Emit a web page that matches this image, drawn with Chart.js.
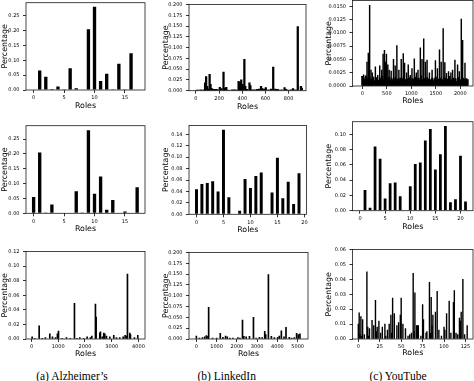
<!DOCTYPE html>
<html><head><meta charset="utf-8">
<script src="https://cdn.jsdelivr.net/npm/chart.js@4.4.1/dist/chart.umd.min.js"></script>
<style>
html,body{margin:0;padding:0;background:#fff;width:474px;height:381px;overflow:hidden;position:relative}
canvas{position:absolute}
.cap{position:absolute;font-family:"Liberation Serif","Times New Roman",serif;font-size:11.5px;line-height:12px;color:#000;white-space:nowrap;transform:translateX(-50%)}
</style></head><body>
<div class="cap" style="left:72px;top:369.7px">(a) Alzheimer’s</div>
<div class="cap" style="left:226.7px;top:369.7px">(b) LinkedIn</div>
<div class="cap" style="left:398px;top:369.7px">(c) YouTube</div>
<script>
// ---------- DATA ----------
// Alzheimer's (top)
const alzTopRoles  = [0,1,2,3,4,5,6,7,8,9,10,11,12,13,14,15,16,17];
const alzTopValues = [0,0.066,0.045,0.003,0.012,0.001,0.073,0.006,0,0.205,0.280,0.030,0.055,0.001,0.088,0.001,0.124,0];
// Alzheimer's (middle)
const alzMidRoles  = [0,1,2,3,4,5,6,7,8,9,10,11,12,13,14,15,16,17];
const alzMidValues = [0.055,0.205,0.003,0.030,0,0,0,0.074,0.001,0.280,0.066,0.124,0.012,0.045,0,0.006,0,0.088];
// Alzheimer's (bottom)
const alzBotRoles  = [25,120,287,400,520,685,785,900,970,1010,1150,1308,1450,1607,1700,1807,1950,2081,2200,2255,2392,2417,2554,2579,2650,2704,2741,2803,2928,3077,3177,3300,3427,3501,3564,3589,3676,3701,3850,3975];
const alzBotValues = [0.003,0.001,0.018,0.001,0.002,0.007,0.003,0.002,0.007,0.011,0.001,0.002,0.001,0.049,0.001,0.002,0.001,0.003,0.002,0.004,0.048,0.030,0.008,0.010,0.003,0.008,0.007,0.004,0.003,0.005,0.002,0.002,0.003,0.005,0.004,0.089,0.008,0.006,0.002,0.005];

// LinkedIn (top)
const linTopRoles  = [5,20,40,55,70,79,88,97,105,118,126,138,150,162,176,190,206,220,238,250,262,280,309,325,338,355,368,376,382,391,397,403,418,426,440,462,470,485,500,515,529,545,562,573,590,603,625,647,667,685,695,706,720,740,765,779,800,820,838,860,879,906,914];
const linTopValues = [0.001,0.001,0.002,0.001,0.002,0.018,0.033,0.010,0.004,0.038,0.015,0.005,0.003,0.003,0.003,0.002,0.008,0.005,0.043,0.006,0.008,0.001,0.002,0.002,0.002,0.001,0.022,0.015,0.020,0.025,0.012,0.015,0.073,0.010,0.003,0.018,0.012,0.002,0.002,0.002,0.003,0.004,0.010,0.005,0.004,0.007,0.002,0.004,0.055,0.004,0.003,0.003,0.001,0.002,0.007,0.003,0.001,0.002,0.005,0.002,0.149,0.010,0.006];
// LinkedIn (middle)
const linMidRoles  = [0,1,2,3,4,5,6,7,8,9,10,11,12,13,14,15,16,17,18,19];
const linMidValues = [0.044,0.053,0.055,0.058,0.040,0.148,0.030,0,0.006,0.062,0.046,0.067,0.073,0,0.038,0.099,0.028,0.057,0.018,0.072];
// LinkedIn (bottom)
const linBotRoles  = [0,150,300,410,492,574,606,800,1000,1180,1311,1442,1524,1650,1803,2049,2150,2278,2344,2459,2622,2819,2950,3114,3250,3376,3425,3557,3704,3850,4016,4098,4196,4327,4426,4589,4700,4835,4950,5032,5114];
const linBotValues = [0.007,0.002,0.003,0.005,0.008,0.006,0.073,0.002,0.002,0.013,0.004,0.007,0.005,0.002,0.002,0.003,0.002,0.044,0.006,0.005,0.006,0.050,0.002,0.004,0.003,0.018,0.010,0.149,0.006,0.003,0.004,0.007,0.019,0.005,0.027,0.004,0.002,0.003,0.013,0.010,0.012];

// YouTube (top): dense low floor + spikes
const ytTopFloorRoles  = [0,25,50,75,100,125,150,175,200,225,250,275,300,325,350,375,400,425,450,475,500,525,550,575,600,625,650,675,700,725,750,775,800,825,850,875,900,925,950,975,1000,1025,1050,1075,1100,1125,1150,1175,1200,1225,1250,1275,1300,1325,1350,1375,1400,1425,1450,1475,1500,1525,1550,1575,1600,1625,1650,1675,1700,1725,1750,1775,1800,1825,1850,1875,1900,1925,1950,1975,2000,2025,2050,2075,2100,2125,2150];
const ytTopFloorValues = [0.0018,0.0016,0.0012,0.0019,0.0014,0.0011,0.0015,0.0009,0.0013,0.0017,0.0010,0.0012,0.0016,0.0011,0.0008,0.0014,0.0018,0.0012,0.0010,0.0015,0.0013,0.0009,0.0017,0.0011,0.0014,0.0010,0.0012,0.0016,0.0009,0.0013,0.0011,0.0015,0.0010,0.0014,0.0018,0.0012,0.0009,0.0013,0.0016,0.0011,0.0010,0.0014,0.0012,0.0017,0.0009,0.0013,0.0015,0.0011,0.0019,0.0012,0.0010,0.0014,0.0011,0.0016,0.0013,0.0009,0.0012,0.0015,0.0010,0.0014,0.0017,0.0011,0.0013,0.0009,0.0015,0.0012,0.0010,0.0016,0.0014,0.0011,0.0013,0.0018,0.0010,0.0012,0.0015,0.0011,0.0014,0.0009,0.0013,0.0016,0.0012,0.0010,0.0015,0.0013,0.0011,0.0014,0.0012];
const ytTopSpikeRoles  = [27,96,123,150,178,205,267,315,356,397,425,452,473,493,521,548,589,637,671,706,747,795,836,863,904,938,980,1014,1062,1103,1137,1185,1219,1254,1288,1322,1370,1425,1493,1534,1576,1610,1651,1685,1719,1760,1808,1843,1891,1945,1980,2021,2048,2096,2130];
const ytTopSpikeValues = [0.0021,0.0045,0.0062,0.0152,0.0030,0.0025,0.0036,0.0020,0.0038,0.0030,0.0060,0.0067,0.0045,0.0060,0.0040,0.0030,0.0028,0.0050,0.0038,0.0076,0.0030,0.0050,0.0061,0.0043,0.0025,0.0040,0.0020,0.0033,0.0051,0.0025,0.0030,0.0072,0.0050,0.0089,0.0045,0.0049,0.0025,0.0030,0.0048,0.0033,0.0068,0.0045,0.0108,0.0044,0.0024,0.0027,0.0025,0.0030,0.0049,0.0040,0.0027,0.0126,0.0086,0.0043,0.0010];
// YouTube (middle)
const ytMidRoles  = [0,1,2,3,4,5,6,7,8,9,10,11,12,13,14,15,16,17,18,19,20,21];
const ytMidValues = [0.0005,0.027,0.004,0.084,0.068,0.016,0.036,0.037,0.019,0,0.032,0.061,0.063,0.092,0.107,0.054,0.074,0.111,0.011,0.015,0.072,0.012];
// YouTube (bottom)
const ytBotRoles  = [0,1,2,3,4,5,7,10,11,12,13,16,18,20,21,22,24,26,28,31,32,34,36,38,39,40,42,45,47,49,50,52,55,58,60,62,64,65,66,68,69,70,73,75,76,79,80,83,84,85,86,87,90,92,94,97,100,101,103,106,108,111,112,114,116,118,119,120,122,124,127];
const ytBotValues = [0.010,0.0175,0.003,0.015,0.002,0.013,0.003,0.045,0.008,0.002,0.007,0.0125,0.009,0.026,0.005,0.008,0.012,0.004,0.008,0.010,0.002,0.006,0.010,0.016,0.004,0.0275,0.017,0.009,0.011,0.016,0.0275,0.010,0.007,0.002,0.003,0.004,0.044,0.005,0.031,0.009,0.009,0.009,0.002,0.023,0.013,0.004,0.005,0.038,0.004,0.028,0.009,0.016,0.018,0.032,0.006,0.002,0.008,0.006,0.017,0.0255,0.004,0.0245,0.0325,0.004,0.003,0.014,0.012,0.018,0.040,0.003,0.009];

// Tick labels
const ticksX_alzSmall = [0,5,10,15];
const ticksX_alzBig   = [0,1000,2000,3000,4000];
const ticksX_linTop   = [0,200,400,600,800];
const ticksX_linBot   = [0,1000,2000,3000,4000,5000];
const ticksX_twenty   = [0,5,10,15,20];
const ticksX_ytTop    = [0,500,1000,1500,2000];
const ticksX_ytBot    = [0,25,50,75,100,125];
const ticksY_alz      = [0,0.05,0.10,0.15,0.20,0.25];
const ticksY_alzBot   = [0,0.02,0.04,0.06,0.08,0.10,0.12];
const ticksY_lin      = [0,0.025,0.05,0.075,0.10,0.125,0.15,0.175,0.20];
const ticksY_linMid   = [0,0.02,0.04,0.06,0.08,0.10,0.12,0.14];
const ticksY_ytTop    = [0,0.0025,0.005,0.0075,0.01,0.0125,0.015];
const ticksY_ytMid    = [0,0.02,0.04,0.06,0.08,0.10];
const ticksY_ytBot    = [0,0.01,0.02,0.03,0.04,0.05,0.06];

// ---------- RENDERING ----------
const FONT = '"DejaVu Sans", sans-serif';
const TICK = 5, TITLE = 7.9;
const LH = TITLE * 1.2;

const frame = {id:'frame', afterDatasetsDraw(chart){
  const {ctx, chartArea:a} = chart;
  ctx.save(); ctx.strokeStyle = '#1a1a1a'; ctx.lineWidth = 0.8;
  ctx.strokeRect(a.left, a.top, a.right - a.left, a.bottom - a.top);
  ctx.restore();
}};

function ds(roles, values, extra){
  return Object.assign({
    data: roles.map((r, i) => ({x: r, y: values[i]})),
    backgroundColor: '#000', borderWidth: 0, grouped: false,
    categoryPercentage: 1, barPercentage: 0.55
  }, extra || {});
}

function panel(p){
  const cl = Math.floor(p.ylabX - LH/2);
  const yTitlePad = p.ylabX - LH/2 - cl;
  const W = p.box[0] - cl;
  const ct = Math.floor(p.box[1] - 6);
  const padTop = p.box[1] - ct;
  const cr = Math.ceil(p.box[2] + 4);
  const padRight = cr - p.box[2];
  const cb = Math.ceil(p.xlabY + LH/2);
  const xTitlePad = cb - (p.xlabY + LH/2);
  const H = cb - p.box[3];
  const c = document.createElement('canvas');
  c.width = cr - cl; c.height = cb - ct;
  c.style.left = cl + 'px'; c.style.top = ct + 'px';
  document.body.appendChild(c);
  const grid = {display:true, drawOnChartArea:false, drawTicks:true, tickLength:3, tickColor:'#000', tickWidth:0.8, offset:false};
  new Chart(c, {
    type: 'bar',
    data: {datasets: p.datasets},
    options: {
      responsive:false, animation:false, devicePixelRatio:1,
      layout:{padding:{left:0, top:padTop, right:padRight, bottom:0}},
      plugins:{legend:{display:false}, tooltip:{enabled:false}},
      scales:{
        x:{type:'linear', bounds:'data', min:p.xr[0], max:p.xr[1], offset:false,
          afterBuildTicks: a => { a.ticks = p.xt.map(v => ({value:v})); },
          afterFit: a => { a.height = H; },
          ticks:{autoSkip:false, maxRotation:0, minRotation:0, padding:2.2, color:'#000',
                 font:{family:FONT, size:TICK}, callback: v => String(v)},
          grid, border:{display:false},
          title:{display:true, text:'Roles', color:'#000', font:{family:FONT, size:TITLE},
                 padding:{top:0, bottom:xTitlePad}}
        },
        y:{type:'linear', bounds:'data', min:0, max:p.ymax,
          afterBuildTicks: a => { a.ticks = p.yt.map(v => ({value:v})); },
          afterFit: a => { a.width = W; },
          ticks:{autoSkip:false, padding:3.5, color:'#000', font:{family:FONT, size:TICK},
                 callback: v => Number(v).toFixed(p.dec)},
          grid, border:{display:false},
          title:{display:true, text:'Percentage', color:'#000', font:{family:FONT, size:TITLE},
                 padding:{top:yTitlePad, bottom:0}}
        }
      }
    },
    plugins:[frame]
  });
}

panel({box:[26,2.7,145,90], ylabX:5, xlabY:105.6, xr:[-1.25,18.29], ymax:0.294, xt:ticksX_alzSmall, yt:ticksY_alz, dec:2,
  datasets:[ds(alzTopRoles, alzTopValues)]});
panel({box:[189,4,306,90.7], ylabX:165.5, xlabY:107, xr:[-60,950], ymax:0.2, xt:ticksX_linTop, yt:ticksY_lin, dec:3,
  datasets:[ds(linTopRoles, linTopValues, {barThickness:1.6})]});
panel({box:[352.5,0.5,473,86], ylabX:328.8, xlabY:100.8, xr:[-200,2260], ymax:0.0161, xt:ticksX_ytTop, yt:ticksY_ytTop, dec:4,
  datasets:[ds(ytTopFloorRoles, ytTopFloorValues, {barThickness:1.5}), ds(ytTopSpikeRoles, ytTopSpikeValues, {barThickness:0.8})]});
panel({box:[26,125.7,145,213.3], ylabX:5, xlabY:229.2, xr:[-1.25,18.29], ymax:0.295, xt:ticksX_alzSmall, yt:ticksY_alz, dec:2,
  datasets:[ds(alzMidRoles, alzMidValues)]});
panel({box:[189,125,306.5,214.3], ylabX:165.5, xlabY:230, xr:[-1.39,20.39], ymax:0.1555, xt:ticksX_twenty, yt:ticksY_linMid, dec:2,
  datasets:[ds(linMidRoles, linMidValues)]});
panel({box:[352.5,121.7,473,210.7], ylabX:328.8, xlabY:227.2, xr:[-1.49,22.49], ymax:0.1165, xt:ticksX_twenty, yt:ticksY_ytMid, dec:2,
  datasets:[ds(ytMidRoles, ytMidValues)]});
panel({box:[26,251,145,339], ylabX:5, xlabY:354.3, xr:[-205,4245], ymax:0.12, xt:ticksX_alzBig, yt:ticksY_alzBot, dec:2,
  datasets:[ds(alzBotRoles, alzBotValues, {barThickness:1})]});
panel({box:[189,252,308,339], ylabX:165.5, xlabY:353.7, xr:[-364,5512], ymax:0.2, xt:ticksX_linBot, yt:ticksY_lin, dec:3,
  datasets:[ds(linBotRoles, linBotValues, {barThickness:1})]});
panel({box:[352.5,249.3,473,339], ylabX:328.8, xlabY:353.3, xr:[-6.8,133.8], ymax:0.06, xt:ticksX_ytBot, yt:ticksY_ytBot, dec:2,
  datasets:[ds(ytBotRoles, ytBotValues, {barThickness:0.75})]});
</script>
</body></html>
